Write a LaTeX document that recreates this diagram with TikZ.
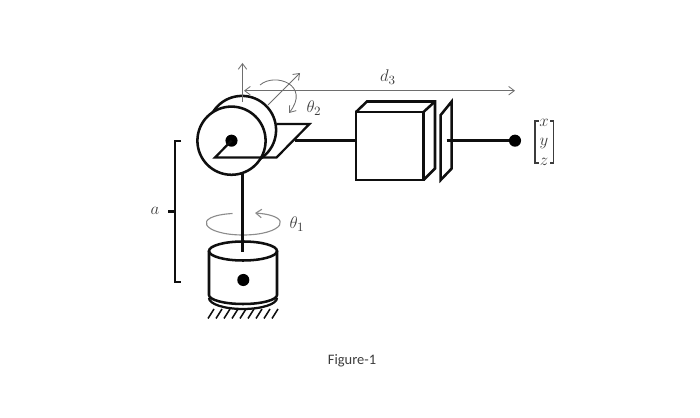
\documentclass[tikz,border=0pt]{standalone}
\definecolor{linkblack}{RGB}{15, 15, 15}
\definecolor{axisgray}{RGB}{110, 110, 110}
\definecolor{swinggray}{RGB}{140, 140, 140}
\definecolor{labelgray}{RGB}{60, 60, 60}
\usepackage{tikz}
\usetikzlibrary{arrows.meta, positioning, calc}
\usepackage{amsmath, amssymb}
\usepackage{fontspec}
\newfontfamily\captionfont{Carlito}

\tikzset{
  linkline/.style={draw=linkblack, line width=1.8pt},
  thinlink/.style={draw=linkblack, line width=1.6pt},
  axisline/.style={draw=axisgray, line width=0.6pt, -{Straight Barb[length=4pt, width=6pt]}},
  swingline/.style={draw=swinggray, line width=0.8pt},
  jointdot/.style={circle, fill=black, inner sep=0pt, minimum size=8.6pt},
  drumdisc/.style={circle, linkline, fill=white, minimum size=48.5pt, inner sep=0pt},
  symlabel/.style={text=labelgray, font=\fontsize{13}{13}\selectfont},
  vecentry/.style={symlabel, inner sep=0pt, anchor=base}
}

\begin{document}
\begin{tikzpicture}[x=0.025cm, y=-0.025cm]
  \useasboundingbox (0, 0) rectangle (700, 418);

  % Shoulder drums
  \node[drumdisc] (drumback) at (242, 130) {};
  \node[drumdisc] (drumfront) at (231.5, 140.7) {};
  \node[jointdot] (shoulder) at (231.5, 140.7) {};

  % Tilted plate
  \coordinate (platea) at (215, 157.5);
  \coordinate (plateb) at (276.5, 157.5);
  \coordinate (platec) at (309.5, 124);
  \coordinate (plated) at (276.5, 124);
  \draw[thinlink, line join=miter] (shoulder.center) -- (platea) -- (plateb) -- (platec) -- (plated);

  % Prismatic box
  \coordinate (boxa) at (356, 112);
  \coordinate (boxb) at (423.5, 112);
  \coordinate (boxc) at (423.5, 180);
  \coordinate (boxd) at (356, 180);
  \coordinate (boxe) at (367, 101.5);
  \coordinate (boxf) at (435, 101.5);
  \coordinate (boxg) at (435, 168.5);
  \draw[linkline, line join=miter] (boxa) -- (boxb) -- (boxc) -- (boxd) -- cycle;
  \draw[linkline, line join=miter] (boxa) -- (boxe) -- (boxf) -- (boxg) -- (boxc);
  \draw[linkline] (boxb) -- (boxf);

  % Slider plate and arm
  \coordinate (slidea) at (440.7, 115);
  \coordinate (slideb) at (451.7, 101.5);
  \coordinate (slidec) at (451.7, 168.5);
  \coordinate (slided) at (440.7, 180);
  \draw[linkline, line join=miter] (slidea) -- (slideb) -- (slidec) -- (slided) -- cycle;
  \coordinate (armstart) at (446.5, 140.7);
  \node[jointdot] (tool) at (515, 140.7) {};
  \draw[linkline] (armstart) -- (tool);
  \coordinate (linkstart) at (295, 140.7);
  \coordinate (linkend) at (356, 140.7);
  \draw[linkline] (linkstart) -- (linkend);

  % Base cylinder
  \coordinate (cylleft) at (209, 251);
  \coordinate (cylright) at (277, 251);
  \coordinate (cyllowleft) at (209, 295);
  \coordinate (cyllowright) at (277, 295);
  \coordinate (plinthleft) at (209, 298);
  \coordinate (plinthright) at (277, 298);
  \draw[linkline] (243, 251) ellipse (34 and 9.5);
  \draw[linkline] (cylleft) -- (cyllowleft) arc[start angle=180, end angle=360, x radius=34, y radius=-9] -- (cylright);
  \draw[thinlink] (plinthleft) arc[start angle=180, end angle=360, x radius=34, y radius=-11];
  \node[jointdot] (waist) at (243.3, 280) {};

  % Ground hatching
  \foreach \hx in {214, 222, 230, 238, 246, 254, 262, 270, 278} {
    \draw[linkblack, line width=1.1pt] (\hx, 309) -- (\hx-6, 318.5);
  }

  % Waist swing
  \draw[swingline, -{Straight Barb[length=4pt, width=6pt]}] (232.5, 213.5)
    .. controls (190, 216) and (203, 235) .. (243, 235)
    .. controls (283, 235) and (296, 216) .. (255, 213);

  % Vertical shaft
  \coordinate (shafttop) at (242.5, 173);
  \coordinate (shaftlow) at (242.5, 252);
  \draw[linkline] (shafttop) -- (shaftlow);

  % Axes
  \coordinate (upa) at (242.5, 102);
  \coordinate (upb) at (242.5, 63);
  \draw[axisline] (upa) -- (upb);
  \coordinate (diaga) at (268, 105);
  \coordinate (diagb) at (300, 73);
  \draw[axisline] (diaga) -- (diagb);
  \coordinate (reacha) at (244, 90.7);
  \coordinate (reachb) at (515, 90.7);
  \draw[axisline, {Straight Barb[length=4pt, width=6pt]}-{Straight Barb[length=4pt, width=6pt]}] (reacha) -- (reachb);
  \coordinate (tilta) at (260, 85);
  \coordinate (tiltb) at (289, 113);
  \draw[axisline] (tilta) .. controls (275, 72) and (311, 85) .. (tiltb);

  % Labels
  \node[symlabel] (dlabel) at (388, 77) {$d_3$};
  \node[symlabel] (thetatwo) at (314, 108) {$\theta_2$};
  \node[symlabel] (thetaone) at (297, 224) {$\theta_1$};
  \node[symlabel] (alabel) at (155, 211) {$a$};

  % Height bracket
  \coordinate (brtop) at (181, 141);
  \coordinate (brlow) at (181, 282);
  \coordinate (brmid) at (175, 211.5);
  \coordinate (brtick) at (168, 211.5);
  \draw[thinlink, line join=miter] (brtop) -- (175, 141) -- (175, 282) -- (brlow);
  \draw[thinlink] (brmid) -- (brtick);

  % Output vector
  \node[vecentry] (vecx) at (544, 127) {$x$};
  \node[vecentry] (vecy) at (544, 146) {$y$};
  \node[vecentry] (vecz) at (544, 166) {$z$};
  \draw[draw=labelgray, line width=0.8pt] (538.5, 121) -- (535, 121) -- (535, 163) -- (538.5, 163);
  \draw[draw=labelgray, line width=0.8pt] (550, 121) -- (553.5, 121) -- (553.5, 163) -- (550, 163);

  % Caption
  \node[font=\captionfont\fontsize{10.3}{12}\selectfont, text=labelgray] (caption) at (352, 361) {Figure-1};
\end{tikzpicture}
\end{document}
